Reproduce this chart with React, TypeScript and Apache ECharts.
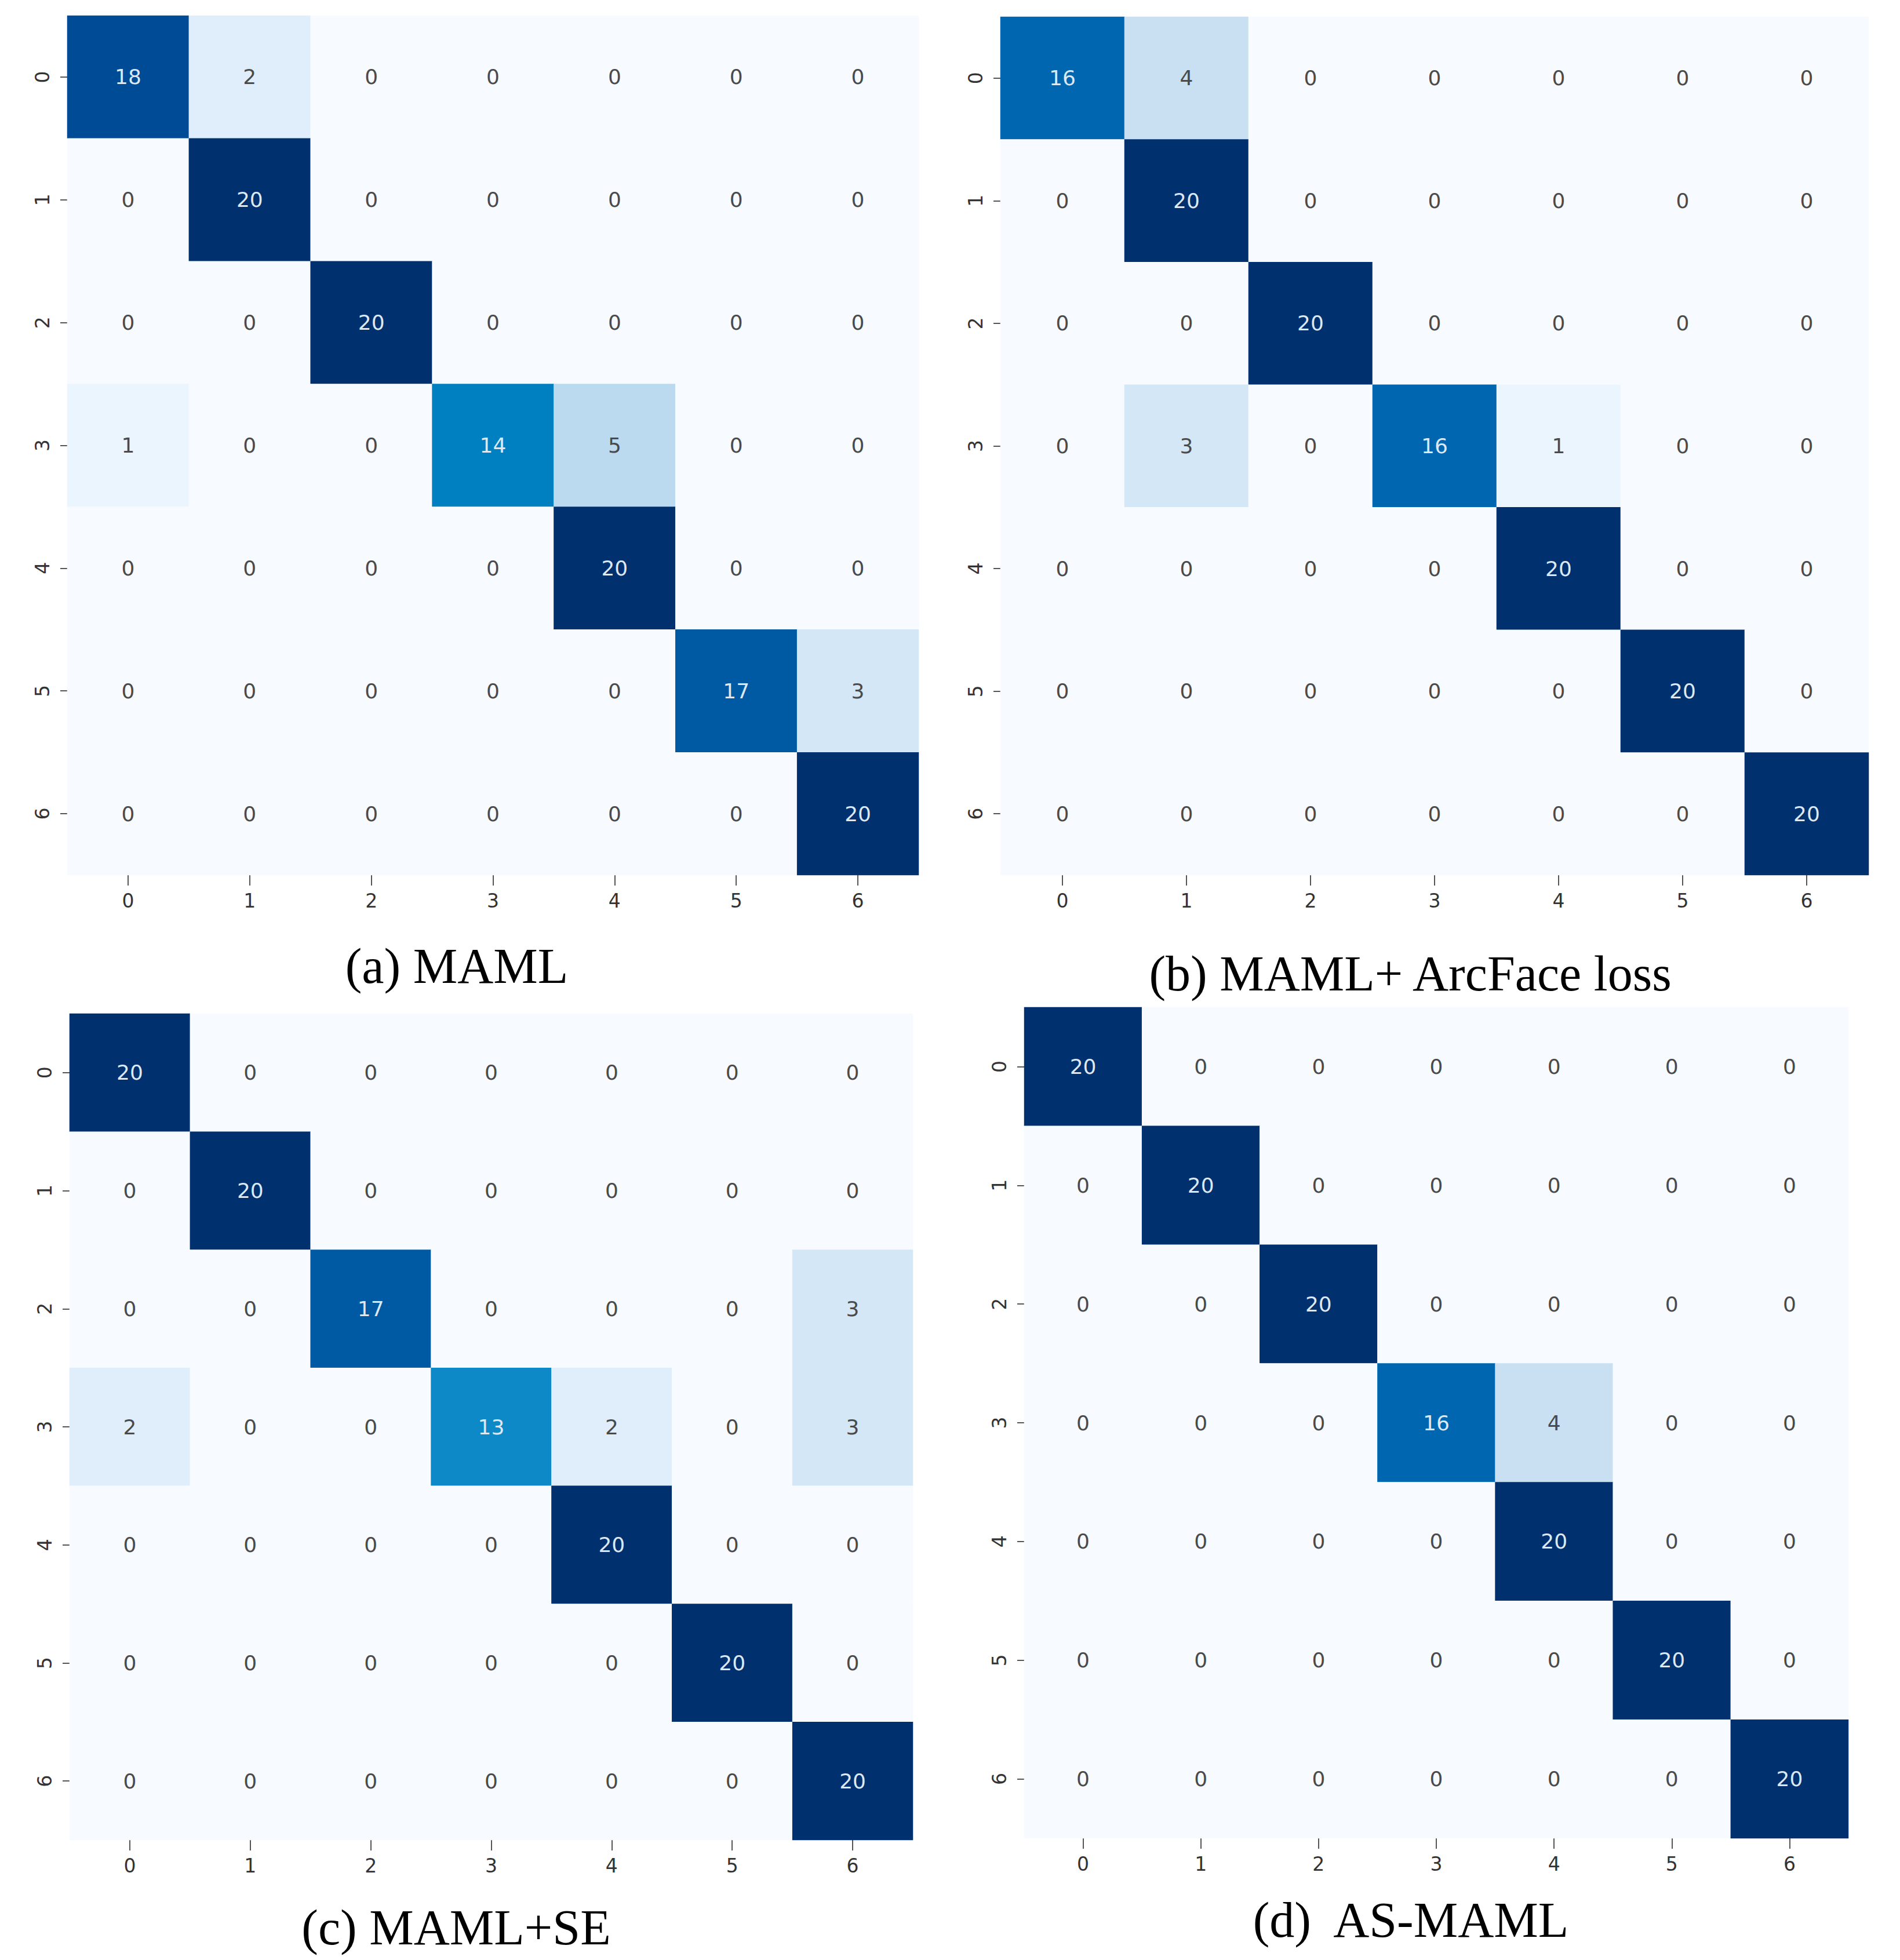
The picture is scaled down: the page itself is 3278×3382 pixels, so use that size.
import React, { useEffect, useRef } from "react";
import * as echarts from "echarts";

const classLabels = ["0", "1", "2", "3", "4", "5", "6"];

const matrixA = [
  [18, 2, 0, 0, 0, 0, 0],
  [0, 20, 0, 0, 0, 0, 0],
  [0, 0, 20, 0, 0, 0, 0],
  [1, 0, 0, 14, 5, 0, 0],
  [0, 0, 0, 0, 20, 0, 0],
  [0, 0, 0, 0, 0, 17, 3],
  [0, 0, 0, 0, 0, 0, 20],
];
const matrixB = [
  [16, 4, 0, 0, 0, 0, 0],
  [0, 20, 0, 0, 0, 0, 0],
  [0, 0, 20, 0, 0, 0, 0],
  [0, 3, 0, 16, 1, 0, 0],
  [0, 0, 0, 0, 20, 0, 0],
  [0, 0, 0, 0, 0, 20, 0],
  [0, 0, 0, 0, 0, 0, 20],
];
const matrixC = [
  [20, 0, 0, 0, 0, 0, 0],
  [0, 20, 0, 0, 0, 0, 0],
  [0, 0, 17, 0, 0, 0, 3],
  [2, 0, 0, 13, 2, 0, 3],
  [0, 0, 0, 0, 20, 0, 0],
  [0, 0, 0, 0, 0, 20, 0],
  [0, 0, 0, 0, 0, 0, 20],
];
const matrixD = [
  [20, 0, 0, 0, 0, 0, 0],
  [0, 20, 0, 0, 0, 0, 0],
  [0, 0, 20, 0, 0, 0, 0],
  [0, 0, 0, 16, 4, 0, 0],
  [0, 0, 0, 0, 20, 0, 0],
  [0, 0, 0, 0, 0, 20, 0],
  [0, 0, 0, 0, 0, 0, 20],
];

const captions = ["(a) MAML", "(b) MAML+ ArcFace loss", "(c) MAML+SE", "(d)  AS-MAML"];

// colour stops for values 0,2,4,...,20 (a saturated "Blues" map)
const blues = [
  "#f7fbff", "#dfeefa", "#c8e0f2", "#aed3ee", "#86c0e6", "#52a6da",
  "#1892cc", "#0080c0", "#0066b0", "#004b96", "#00306e",
];

const panels = [
  { m: matrixA, grid: { left: 116, top: 27, width: 1469, height: 1483 }, cap: { x: 788, y: 1667 } },
  { m: matrixB, grid: { left: 1726, top: 29, width: 1498, height: 1481 }, cap: { x: 2433, y: 1680 } },
  { m: matrixC, grid: { left: 120, top: 1749, width: 1455, height: 1426 }, cap: { x: 787, y: 3326 } },
  { m: matrixD, grid: { left: 1767, top: 1738, width: 1422, height: 1434 }, cap: { x: 2434, y: 3313 } },
];

export default function App() {
  const ref = useRef<HTMLDivElement>(null);
  useEffect(() => {
    if (!ref.current) return;
    const chart = echarts.init(ref.current, null, { renderer: "svg" });
    const tickFont = "DejaVu Sans";
    const option: any = {
      animation: false,
      backgroundColor: "#ffffff",
      grid: panels.map((p) => ({ ...p.grid, containLabel: false })),
      xAxis: panels.map((_, i) => ({
        type: "category",
        gridIndex: i,
        data: classLabels,
        axisLine: { show: false },
        axisTick: { show: true, alignWithLabel: true, length: 18, lineStyle: { color: "#555", width: 2 } },
        axisLabel: { margin: 28, fontSize: 33, color: "#333", fontFamily: tickFont },
        splitLine: { show: false },
      })),
      yAxis: panels.map((_, i) => ({
        type: "category",
        gridIndex: i,
        data: classLabels,
        inverse: true,
        axisLine: { show: false },
        axisTick: { show: true, alignWithLabel: true, length: 12, lineStyle: { color: "#555", width: 2 } },
        axisLabel: { margin: 26, fontSize: 33, color: "#333", fontFamily: tickFont, rotate: 90 },
        splitLine: { show: false },
      })),
      visualMap: {
        show: false,
        min: 0,
        max: 20,
        seriesIndex: [0, 1, 2, 3],
        inRange: { color: blues },
      },
      series: panels.map((p, i) => {
        const data: any[] = [];
        p.m.forEach((row, r) => {
          row.forEach((v, c) => {
            data.push({
              value: [c, r, v],
              label: { color: v >= 10 ? "#dce8f4" : "#4a4a4a" },
            });
          });
        });
        return {
          type: "heatmap",
          xAxisIndex: i,
          yAxisIndex: i,
          data,
          label: { show: true, fontSize: 36, fontFamily: tickFont, formatter: (d: any) => String(d.value[2]) },
          itemStyle: { borderWidth: 0 },
          emphasis: { disabled: true },
        };
      }),
      graphic: panels.map((p, i) => ({
        type: "text",
        x: p.cap.x,
        y: p.cap.y,
        style: {
          text: captions[i],
          font: "86px 'Liberation Serif'",
          fill: "#000",
          align: "center",
          verticalAlign: "middle",
          textAlign: "center",
          textVerticalAlign: "middle",
        },
      })),
    };
    chart.setOption(option);
    return () => chart.dispose();
  }, []);
  return (
    <div
      ref={ref}
      style={{ position: "absolute", left: 0, top: 0, width: 3278, height: 3382 }}
    />
  );
}
